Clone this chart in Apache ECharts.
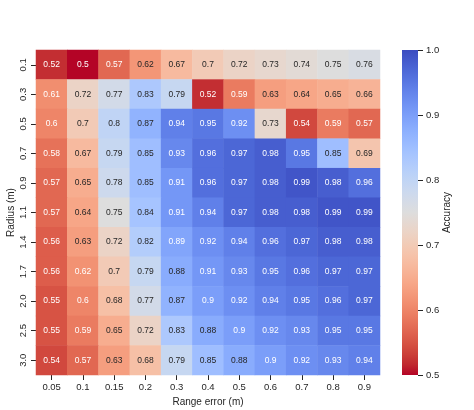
<!DOCTYPE html>
<html><head><meta charset="utf-8">
<script src="https://cdn.jsdelivr.net/npm/echarts@6/dist/echarts.min.js"></script>
<style>html,body{margin:0;padding:0;background:#fff}#c{width:474px;height:410px}</style>
</head><body><div id="c"></div>
<script>
const rangeErrors = ['0.05','0.1','0.15','0.2','0.3','0.4','0.5','0.6','0.7','0.8','0.9'];
const radii = ['0.1','0.3','0.5','0.7','0.9','1.1','1.4','1.7','2.0','2.5','3.0'];
const r01 = [0.52,0.5,0.57,0.62,0.67,0.7,0.72,0.73,0.74,0.75,0.76];
const r03 = [0.61,0.72,0.77,0.83,0.79,0.52,0.59,0.63,0.64,0.65,0.66];
const r05 = [0.6,0.7,0.8,0.87,0.94,0.95,0.92,0.73,0.54,0.59,0.57];
const r07 = [0.58,0.67,0.79,0.85,0.93,0.96,0.97,0.98,0.95,0.85,0.69];
const r09 = [0.57,0.65,0.78,0.85,0.91,0.96,0.97,0.98,0.99,0.98,0.96];
const r11 = [0.57,0.64,0.75,0.84,0.91,0.94,0.97,0.98,0.98,0.99,0.99];
const r14 = [0.56,0.63,0.72,0.82,0.89,0.92,0.94,0.96,0.97,0.98,0.98];
const r17 = [0.56,0.615,0.7,0.79,0.88,0.91,0.93,0.95,0.96,0.97,0.97];
const r20 = [0.55,0.6,0.68,0.77,0.87,0.9,0.92,0.94,0.95,0.96,0.97];
const r25 = [0.55,0.59,0.65,0.72,0.83,0.88,0.9,0.92,0.93,0.95,0.95];
const r30 = [0.54,0.57,0.63,0.68,0.79,0.85,0.88,0.9,0.92,0.93,0.94];
const rows = [r01,r03,r05,r07,r09,r11,r14,r17,r20,r25,r30];
const cbTicks = [0.5,0.6,0.7,0.8,0.9,1.0];
const cbMin = 0.5, cbMax = 1.0;

// coolwarm, from blue (high accuracy) to red (low accuracy)
const coolwarm = [[59,76,192],[68,90,204],[77,104,215],[87,117,225],[98,130,234],[108,142,241],[119,154,247],[130,165,251],[141,176,254],[152,185,255],[163,194,255],[174,201,253],[184,208,249],[194,213,244],[204,217,238],[213,219,230],[221,221,221],[229,216,209],[236,211,197],[241,204,184],[245,196,172],[247,187,160],[247,177,148],[247,166,135],[244,154,123],[241,141,111],[236,127,99],[229,112,88],[222,96,77],[213,80,66],[203,62,56],[192,40,47],[180,4,38]];
const cwCss = coolwarm.map(c => 'rgb(' + c.join(',') + ')');
const colors = cwCss.slice().reverse();
const gradStops = cwCss.map((c, i) => ({offset: i / (cwCss.length - 1), color: c}));

const font = '"Liberation Sans", Arial, sans-serif';
const data = [];
rows.forEach((row, yi) => row.forEach((v, xi) => {
  const dark = v >= 0.62 && v <= 0.88;
  data.push({value: [xi, yi, v], label: {color: dark ? '#262626' : '#ffffff'}});
}));

const chart = echarts.init(document.getElementById('c'));
chart.setOption({
  backgroundColor: '#fff',
  animation: false,
  textStyle: {fontFamily: font},
  grid: [
    {left: 36, top: 50, width: 344, height: 325, outerBoundsMode: 'none', containLabel: false},
    {left: 402, top: 50, width: 16, height: 325, outerBoundsMode: 'none', containLabel: false}
  ],
  xAxis: [
    {type: 'category', data: rangeErrors, gridIndex: 0,
     axisLine: {show: false}, splitLine: {show: false},
     axisTick: {show: true, alignWithLabel: true, length: 5, lineStyle: {color: '#262626'}},
     axisLabel: {color: '#262626', fontSize: 9.5, margin: 7, fontFamily: font},
     name: 'Range error (m)', nameLocation: 'middle', nameGap: 21,
     nameTextStyle: {color: '#262626', fontSize: 10, fontFamily: font}},
    {type: 'category', gridIndex: 1, show: false, data: ['cb']}
  ],
  yAxis: [
    {type: 'category', data: radii, inverse: true, gridIndex: 0,
     axisLine: {show: false}, splitLine: {show: false},
     axisTick: {show: true, alignWithLabel: true, length: 5, lineStyle: {color: '#262626'}},
     axisLabel: {color: '#262626', fontSize: 9.5, margin: 8, rotate: 90, fontFamily: font},
     name: 'Radius (m)', nameLocation: 'middle', nameGap: 20, nameMoveOverlap: false,
     nameTextStyle: {color: '#262626', fontSize: 10, fontFamily: font}},
    {type: 'value', gridIndex: 1, position: 'right', min: cbMin, max: cbMax, interval: 0.1,
     axisLine: {show: false}, splitLine: {show: false},
     axisTick: {show: true, length: 5, lineStyle: {color: '#262626'}},
     axisLabel: {color: '#262626', fontSize: 9.5, margin: 8, fontFamily: font,
       formatter: v => cbTicks.some(t => Math.abs(t - v) < 1e-9) ? v.toFixed(1) : ''},
     name: 'Accuracy', nameLocation: 'middle', nameGap: 24, nameRotate: 90, nameMoveOverlap: false,
     nameTextStyle: {color: '#262626', fontSize: 10, fontFamily: font}}
  ],
  visualMap: {
    type: 'continuous', min: cbMin, max: cbMax, seriesIndex: 0, show: false,
    inRange: {color: colors}
  },
  series: [{
    type: 'heatmap', xAxisIndex: 0, yAxisIndex: 0, data: data,
    label: {show: true, fontSize: 8.5, fontFamily: font,
      formatter: p => String(Math.round(p.value[2] * 100) / 100)},
    itemStyle: {borderWidth: 0},
    emphasis: {disabled: true}
  }, {
    type: 'bar', xAxisIndex: 1, yAxisIndex: 1, stack: 'cb', barWidth: '100%',
    data: [cbMin], itemStyle: {color: 'transparent'}, silent: true
  }, {
    type: 'bar', xAxisIndex: 1, yAxisIndex: 1, stack: 'cb', barWidth: '100%',
    data: [cbMax - cbMin], silent: true,
    itemStyle: {color: new echarts.graphic.LinearGradient(0, 0, 0, 1, gradStops)}
  }]
});
</script></body></html>
